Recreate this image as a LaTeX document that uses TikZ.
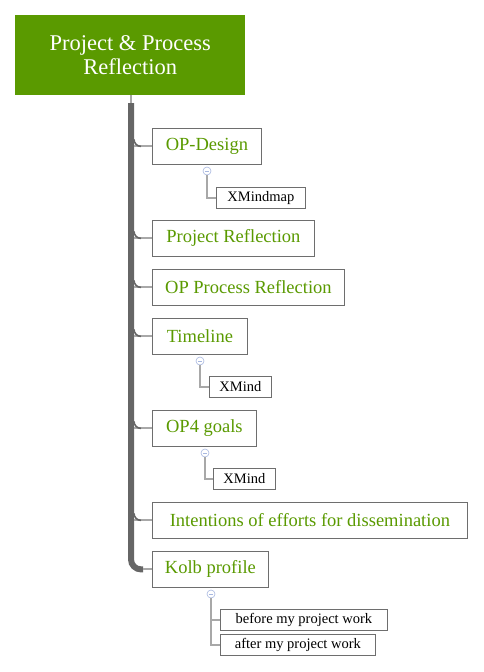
\documentclass[tikz,border=0pt]{standalone}
\usepackage{fontspec}
\setmainfont{Liberation Serif}
\usetikzlibrary{calc}
\definecolor{rootgreen}{HTML}{5A9A00}
\definecolor{topicgreen}{HTML}{5A9A00}
\definecolor{trunkgray}{HTML}{666666}
\definecolor{branchgray}{HTML}{A8A8A8}
\definecolor{boxgray}{HTML}{6E6E6E}
\definecolor{minusblue}{HTML}{A8B8E0}
\tikzset{
  rootbox/.style={fill=rootgreen, draw=none, text=white, font=\fontsize{22.5}{24}\selectfont, align=center, minimum width=230pt, minimum height=80pt, inner sep=0pt, anchor=north west},
  topic/.style={draw=boxgray, line width=0.8pt, fill=white, text=topicgreen, font=\fontsize{18.5}{20}\selectfont, minimum height=36pt, inner sep=0pt, anchor=north west},
  subtopic/.style={draw=boxgray, line width=0.8pt, fill=white, text=black, font=\fontsize{14.5}{16}\selectfont, minimum height=21pt, inner sep=0pt, anchor=north west},
  collapse/.style={circle, draw=minusblue, fill=white, line width=0.6pt, minimum size=8pt, inner sep=0pt, path picture={\draw[minusblue, line width=0.6pt] ([xshift=-2pt]path picture bounding box.center) -- ([xshift=2pt]path picture bounding box.center);}},
  trunk/.style={draw=trunkgray, line width=6pt},
  branch/.style={draw=branchgray, line width=2pt},
  fillet/.style={draw=trunkgray, line width=1.6pt},
  subline/.style={draw=branchgray, line width=1.2pt},
}
\begin{document}
\begin{tikzpicture}[x=1pt,y=-1pt]
\useasboundingbox (0,0) rectangle (483,672);
\node[rootbox] (root) at (15,15) {Project \& Process\\Reflection};
\node[topic, minimum width=109pt] (opd) at (152,128) {OP-Design};
\node[subtopic, minimum width=89pt] (xmm) at (216,187) {XMindmap};
\node[topic, minimum width=162pt] (pr) at (152,220) {Project Reflection};
\node[topic, minimum width=192pt] (opr) at (152,269) {OP Process Reflection};
\node[topic, minimum width=95pt] (tl) at (152,318) {Timeline};
\node[subtopic, minimum width=62pt] (xm1) at (209,376) {XMind};
\node[topic, minimum width=104pt] (op4) at (152,410) {OP4 goals};
\node[subtopic, minimum width=62pt] (xm2) at (213,468) {XMind};
\node[topic, minimum width=315pt] (int) at (152,502) {Intentions of efforts for dissemination};
\node[topic, minimum width=116pt] (kolb) at (152,551) {Kolb profile};
\node[subtopic, minimum width=167pt] (bef) at (220,609) {before my project work};
\node[subtopic, minimum width=155pt] (aft) at (220,634) {after my project work};
% collapse markers
\node[collapse] (c1) at (207,171) {};
\node[collapse] (c2) at (200,361) {};
\node[collapse] (c3) at (205,453) {};
\node[collapse] (c4) at (211,594) {};
% trunk
\coordinate (t0) at (131,103);
\coordinate (tk) at (131,0);
\draw[branchgray, line width=1.2pt] (root.south -| t0) -- (t0);
\coordinate (kj) at ($(tk |- kolb.west)+(12,0)$);
\draw[trunk, rounded corners=10pt] (t0) |- (kj);
\draw[branch] (kj) -- (kolb.west);
% branches
\foreach \n in {opd,pr,opr,tl,op4,int}{
  \draw[branch] ($(tk |- \n.west)+(3,0)$) -- (\n.west);
  \draw[fillet] ($(tk |- \n.west)+(3,-7)$) to[out=-90,in=180] ($(tk |- \n.west)+(10,0)$);
}
% sub branches
\draw[subline] (c1.south) |- (xmm.west);
\draw[subline] (c2.south) |- (xm1.west);
\draw[subline] (c3.south) |- (xm2.west);
\draw[subline] (c4.south) |- (bef.west);
\draw[subline] (c4.south) |- (aft.west);
\end{tikzpicture}
\end{document}
